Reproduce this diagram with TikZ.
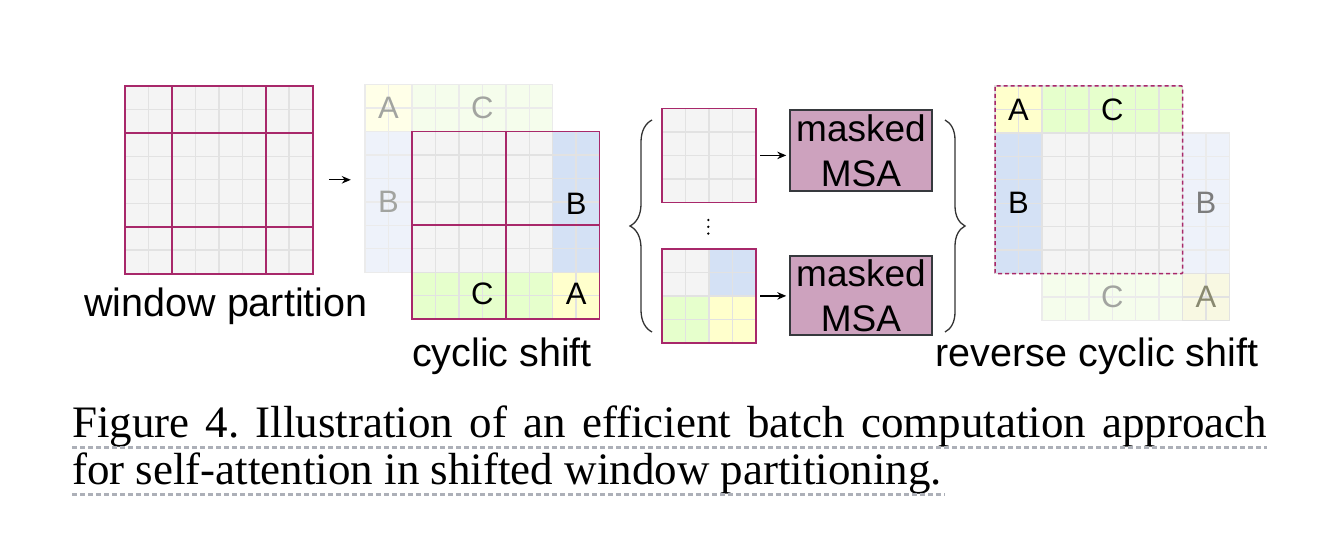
\documentclass[tikz,border=0pt]{standalone}
\usepackage{fontspec}
\setmainfont{Liberation Serif}
\newfontfamily\arialf{Liberation Sans}
\usetikzlibrary{arrows.meta,decorations.pathreplacing}
\definecolor{cellgray}{HTML}{F4F4F4}
\definecolor{gridline}{HTML}{E2E2E2}
\definecolor{fgridline}{HTML}{EBEBEB}
\definecolor{winred}{HTML}{A8286A}
\definecolor{cblue}{HTML}{D4E1F5}
\definecolor{cgreen}{HTML}{E6FFCC}
\definecolor{cyellow}{HTML}{FFFFCC}
\definecolor{fblue}{HTML}{EEF2FA}
\definecolor{fgreen}{HTML}{F5FDEC}
\definecolor{fyellow}{HTML}{FFFFE8}
\definecolor{ryellow}{HTML}{F8F8E2}
\definecolor{msafill}{HTML}{CDA2BE}
\definecolor{msaline}{HTML}{36393D}
\definecolor{ulgray}{HTML}{ADB0B8}
\definecolor{fadetxt}{HTML}{A2A4A0}
\definecolor{rfadetxt}{HTML}{7C7C7C}
\def\cs{23.45}
% origin x, origin y, col from, col to, row from, row to, fill, line colour
\newcommand{\cells}[8]{%
  \foreach \ci in {#3,...,#4}{\foreach \rj in {#5,...,#6}{%
    \filldraw[fill=#7,draw=#8,line width=1.4]
      ({#1+\ci*\cs},{#2+\rj*\cs}) rectangle ++(\cs,\cs);}}}
\tikzset{
  winline/.style={draw=winred,line width=1.8},
  cellabel/.style={font=\arialf\fontsize{31}{36}\selectfont,inner sep=0},
  biglabel/.style={font=\arialf\fontsize{39.5}{47}\selectfont,inner sep=0,anchor=base},
  msabox/.style={draw=msaline,fill=msafill,line width=1.5,minimum width=142,
    inner sep=0,align=center,font=\arialf\fontsize{37}{45}\selectfont},
  gridnode/.style={inner sep=0,minimum width=94,minimum height=94},
  conn/.style={-{Stealth[length=9,width=7.5]},line width=1.3,black},
  bracestyle/.style={decorate,line width=1.3,draw=black!80},
  capline/.style={font=\fontsize{45}{47}\selectfont\frenchspacing,inner sep=0,anchor=base west},
  uline/.style={draw=ulgray,line width=3,dash pattern=on 4.5 off 3.5}
}
\begin{document}
\begin{tikzpicture}[x=1pt,y=-1pt]
\useasboundingbox (0,0) rectangle (1340,556);
\fill[white] (0,0) rectangle (1340,556);

% ---------- window partition ----------
\cells{125}{86}{0}{7}{0}{7}{cellgray}{gridline}
\draw[winline] (125,86) rectangle ++({8*\cs},{8*\cs});
\draw[winline] ({125+2*\cs},86) -- ++(0,{8*\cs});
\draw[winline] ({125+6*\cs},86) -- ++(0,{8*\cs});
\draw[winline] (125,{86+2*\cs}) -- ++({8*\cs},0);
\draw[winline] (125,{86+6*\cs}) -- ++({8*\cs},0);
\node[inner sep=0,minimum size=187.6] (wp) at ({125+4*\cs},{86+4*\cs}) {};
\node[biglabel] (wplab) at (226,316) {window partition};

\draw[conn] ([xshift=16]wp.east) -- ([xshift=38]wp.east);

% ---------- cyclic shift ----------
\def\ox{412}\def\oy{131.5}
\cells{\ox}{\oy}{-2}{-1}{-2}{-1}{fyellow}{fgridline}
\cells{\ox}{\oy}{0}{5}{-2}{-1}{fgreen}{fgridline}
\cells{\ox}{\oy}{-2}{-1}{0}{5}{fblue}{fgridline}
\cells{\ox}{\oy}{0}{5}{0}{5}{cellgray}{gridline}
\cells{\ox}{\oy}{6}{7}{0}{5}{cblue}{gridline}
\cells{\ox}{\oy}{0}{5}{6}{7}{cgreen}{gridline}
\cells{\ox}{\oy}{6}{7}{6}{7}{cyellow}{gridline}
\draw[winline,line width=1.7] (\ox,\oy) rectangle ++({8*\cs},{8*\cs});
\draw[winline,line width=1.7] ({\ox+4*\cs},\oy) -- ++(0,{8*\cs});
\draw[winline,line width=1.7] (\ox,{\oy+4*\cs}) -- ++({8*\cs},0);
\node[cellabel,text=fadetxt] (cfa) at ({\ox-\cs},{\oy-\cs}) {A};
\node[cellabel,text=fadetxt] (cfc) at ({\ox+3*\cs},{\oy-\cs}) {C};
\node[cellabel,text=fadetxt] (cfb) at ({\ox-\cs},{\oy+3*\cs}) {B};
\node[cellabel] (cb) at ({\ox+7*\cs},{\oy+3*\cs+1.5}) {B};
\node[cellabel] (cc) at ({\ox+3*\cs},{\oy+7*\cs-1.5}) {C};
\node[cellabel] (ca) at ({\ox+7*\cs},{\oy+7*\cs-1.5}) {A};
\node[biglabel] (cslab) at (502,366) {cyclic shift};

% ---------- batched windows ----------
\cells{662}{108.5}{0}{3}{0}{3}{cellgray}{gridline}
\draw[winline,line width=1.5] (662,108.5) rectangle ++({4*\cs},{4*\cs});
\node[gridnode] (g1) at ({662+2*\cs},{108.5+2*\cs}) {};

\cells{662}{249}{0}{1}{0}{1}{cellgray}{gridline}
\cells{662}{249}{2}{3}{0}{1}{cblue}{gridline}
\cells{662}{249}{0}{1}{2}{3}{cgreen}{gridline}
\cells{662}{249}{2}{3}{2}{3}{cyellow}{gridline}
\draw[winline,line width=1.5] (662,249) rectangle ++({4*\cs},{4*\cs});
\node[gridnode] (g2) at ({662+2*\cs},{249+2*\cs}) {};

\fill (708.3,220) circle (1.3) (708.3,226.8) circle (1.3) (708.3,233.6) circle (1.3);

\node[msabox,minimum height=81] (msa1) at (861,150.5) {masked\\MSA};
\node[msabox,minimum height=79] (msa2) at (861,295.5) {masked\\MSA};

\draw[conn,shorten >=7] ([xshift=4]g1.east) -- ([xshift=4]g1.east -| msa1.west);
\draw[conn,shorten >=7] ([xshift=4]g2.east) -- ([xshift=4]g2.east -| msa2.west);

\draw[bracestyle,decoration={brace,amplitude=22}] (652,332) -- (652,120);
\draw[bracestyle,decoration={brace,amplitude=20}] (945,120) -- (945,332);

% ---------- reverse cyclic shift ----------
\def\rx{995}\def\ry{86}
\cells{\rx}{\ry}{8}{9}{2}{7}{fblue}{fgridline}
\cells{\rx}{\ry}{2}{7}{8}{9}{fgreen}{fgridline}
\cells{\rx}{\ry}{8}{9}{8}{9}{ryellow}{gridline}
\cells{\rx}{\ry}{0}{1}{0}{1}{cyellow}{gridline}
\cells{\rx}{\ry}{2}{7}{0}{1}{cgreen}{gridline}
\cells{\rx}{\ry}{0}{1}{2}{7}{cblue}{gridline}
\cells{\rx}{\ry}{2}{7}{2}{7}{cellgray}{gridline}
\draw[winline,line width=1.5,dash pattern=on 4 off 3,rounded corners=1]
  (\rx,\ry) rectangle ++({8*\cs},{8*\cs});
\node[cellabel] (ra) at ({\rx+\cs},{\ry+\cs}) {A};
\node[cellabel] (rc) at ({\rx+5*\cs},{\ry+\cs}) {C};
\node[cellabel] (rb) at ({\rx+\cs},{\ry+5*\cs}) {B};
\node[cellabel,text=rfadetxt] (rfb) at ({\rx+9*\cs},{\ry+5*\cs}) {B};
\node[cellabel,text=fadetxt] (rfc) at ({\rx+5*\cs},{\ry+9*\cs}) {C};
\node[cellabel,text=rfadetxt!90!yellow] (rfa) at ({\rx+9*\cs},{\ry+9*\cs}) {A};
\node[biglabel] (rslab) at (1097,366) {reverse cyclic shift};

% ---------- caption ----------
\node[capline] (cap1) at (72,437) {\makebox[1195pt][s]{Figure 4. Illustration of an efficient batch computation approach}};
\node[capline] (cap2) at (72,484) {for self-attention in shifted window partitioning.};
\draw[uline] (cap1.base west) ++(0,10) -- ++(1195,0);
\draw[uline] (cap2.base west) ++(0,10) -- ++(873,0);
\end{tikzpicture}
\end{document}
